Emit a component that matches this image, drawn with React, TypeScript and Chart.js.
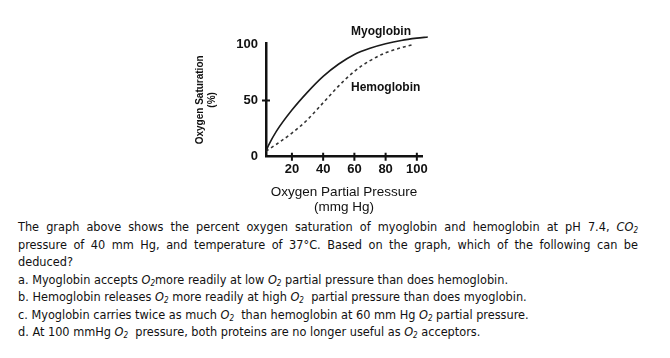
import React, { useEffect, useRef } from "react";
import { Chart, registerables } from "chart.js";

Chart.register(...registerables);

const myoPressure = [3.4, 5, 10, 20, 30, 40, 50, 60, 70, 80, 90, 100, 107];
const myoglobin = [5, 10, 22.5, 41.5, 57.5, 71.5, 82.5, 91, 96.5, 100.5, 103.5, 105.5, 106.5];
const hemoPressure = [3.4, 10, 20, 30, 40, 50, 60, 70, 80, 90, 98];
const hemoglobin = [5, 11, 21, 33, 48, 63, 76, 85.5, 92.5, 97, 100];
const xTicks = [20, 40, 60, 80, 100];
const yTicks = [0, 50, 100];
const xTitle = ["Oxygen Partial Pressure", "(mmg Hg)"];
const yTitle = ["Oxygen Saturation", "(%)"];
const seriesNames = ["Myoglobin", "Hemoglobin"];

const crossTicks = {
  id: "crossTicks",
  afterDraw(chart: any) {
    const { ctx, scales } = chart;
    const x = scales.x;
    const y = scales.y;
    ctx.save();
    ctx.strokeStyle = "#111";
    ctx.lineWidth = 2;
    ctx.beginPath();
    for (const v of xTicks) {
      const px = x.getPixelForValue(v);
      ctx.moveTo(px, y.bottom - 4);
      ctx.lineTo(px, y.bottom + 4);
    }
    const py = y.getPixelForValue(50);
    ctx.moveTo(x.left - 4, py);
    ctx.lineTo(x.left + 4, py);
    ctx.stroke();
    ctx.restore();
  },
};

const O2 = () => (
  <span style={{ fontStyle: "italic" }}>
    O<sub style={{ fontSize: "8px", verticalAlign: "-2px" }}>2</sub>
  </span>
);

export default function App() {
  const ref = useRef<HTMLCanvasElement | null>(null);

  useEffect(() => {
    document.body.style.margin = "0";
    const chart = new Chart(ref.current as HTMLCanvasElement, {
      type: "line",
      data: {
        datasets: [
          {
            label: seriesNames[0],
            data: myoPressure.map((p, i) => ({ x: p, y: myoglobin[i] })),
            borderColor: "#1a1a1a",
            borderWidth: 1.6,
            pointRadius: 0,
            cubicInterpolationMode: "monotone",
            clip: false as any,
          },
          {
            label: seriesNames[1],
            data: hemoPressure.map((p, i) => ({ x: p, y: hemoglobin[i] })),
            borderColor: "#333",
            borderWidth: 1.6,
            borderDash: [3, 3],
            pointRadius: 0,
            cubicInterpolationMode: "monotone",
            clip: false as any,
          },
        ],
      },
      options: {
        animation: false,
        responsive: false,
        layout: { padding: { left: 194, right: 248, top: 43, bottom: 0 } },
        plugins: { legend: { display: false }, tooltip: { enabled: false } },
        scales: {
          x: {
            type: "linear",
            min: 3.4,
            max: 103.3,
            afterBuildTicks: (s: any) => {
              s.ticks = xTicks.map((v) => ({ value: v }));
            },
            afterFit: (s: any) => {
              s.height = 58.3;
            },
            grid: { display: false, drawTicks: false },
            border: { display: true, color: "#111", width: 2.5 },
            ticks: {
              padding: 5,
              color: "#111",
              font: { family: "Liberation Sans", size: 13, weight: "bold" },
            },
            title: {
              display: true,
              text: xTitle,
              color: "#111",
              padding: 0,
              font: { family: "Liberation Sans", size: 13.5, lineHeight: "15px" },
            },
          },
          y: {
            type: "linear",
            min: 0,
            max: 101.2,
            afterBuildTicks: (s: any) => {
              s.ticks = yTicks.map((v) => ({ value: v }));
            },
            afterFit: (s: any) => {
              s.width = 72;
            },
            grid: { display: false, drawTicks: false },
            border: { display: true, color: "#111", width: 2.5 },
            ticks: {
              padding: 8,
              color: "#111",
              font: { family: "Liberation Sans", size: 13, weight: "bold" },
            },
            title: {
              display: true,
              text: yTitle,
              color: "#111",
              padding: 0,
              font: { family: "Liberation Sans", size: 10, weight: "bold", lineHeight: "12px" },
            },
          },
        },
      },
      plugins: [crossTicks],
    });
    return () => chart.destroy();
  }, []);

  const labelStyle: React.CSSProperties = {
    position: "absolute",
    left: 351,
    font: "bold 12px 'Liberation Sans'",
    color: "#111",
    lineHeight: "14px",
    whiteSpace: "nowrap",
  };
  const textFont = "12.6px 'DejaVu Sans Condensed', 'DejaVu Sans'";
  const lineStyle: React.CSSProperties = {
    height: "17.5px",
    lineHeight: "17.5px",
    whiteSpace: "nowrap",
  };

  return (
    <div style={{ position: "absolute", left: 0, top: 0, width: 670, height: 358, background: "#fff" }}>
      <canvas ref={ref} width={670} height={215} style={{ position: "absolute", left: 0, top: 0 }} />
      <div style={{ ...labelStyle, top: 24 }}>{seriesNames[0]}</div>
      <div style={{ ...labelStyle, top: 80 }}>{seriesNames[1]}</div>
      <div style={{ position: "absolute", left: 18, top: 218, width: 620, font: textFont, color: "#111" }}>
        <div style={{ ...lineStyle, textAlign: "justify", textAlignLast: "justify" } as any}>
          The graph above shows the percent oxygen saturation of myoglobin and hemoglobin at pH 7.4, <span style={{ fontStyle: "italic" }}>CO<sub style={{ fontSize: "8px", verticalAlign: "-2px" }}>2</sub></span>
        </div>
        <div style={{ ...lineStyle, textAlign: "justify", textAlignLast: "justify" } as any}>
          pressure of 40 mm Hg, and temperature of 37°C. Based on the graph, which of the following can be
        </div>
        <div style={lineStyle}>deduced?</div>
        <div style={lineStyle}>a. Myoglobin accepts <O2 />more readily at low <O2 /> partial pressure than does hemoglobin.</div>
        <div style={lineStyle}>b. Hemoglobin releases <O2 /> more readily at high <O2 />&nbsp; partial pressure than does myoglobin.</div>
        <div style={lineStyle}>c. Myoglobin carries twice as much <O2 />&nbsp; than hemoglobin at 60 mm Hg <O2 /> partial pressure.</div>
        <div style={lineStyle}>d. At 100 mmHg <O2 />&nbsp; pressure, both proteins are no longer useful as <O2 /> acceptors.</div>
      </div>
    </div>
  );
}
